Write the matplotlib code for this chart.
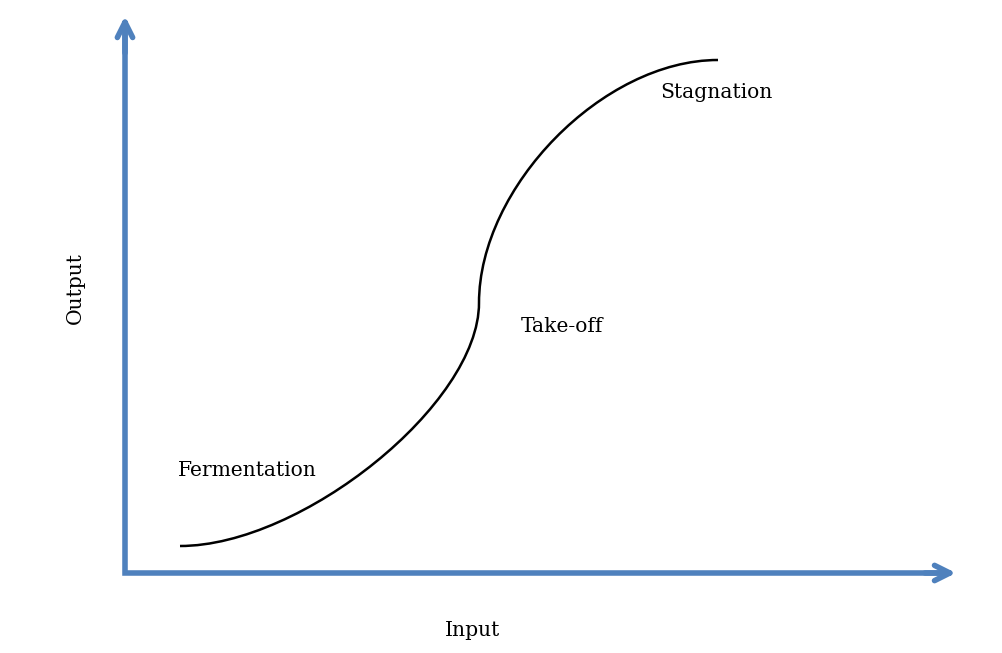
import matplotlib
matplotlib.use('Agg')
import matplotlib.pyplot as plt
from matplotlib.path import Path
from matplotlib.patches import PathPatch

# S-curve as two cubic Bezier segments (origin = axis corner, units ~ px)
CURVE_X = [55, 177, 354, 354, 354, 478, 593]
CURVE_Y = [27, 27, 169, 270, 386, 513, 513]

# text labels
LABELS = ['Fermentation', 'Take-off', 'Stagnation']
LABEL_X = [122, 437, 591]
LABEL_Y = [103, 247, 481]

AXIS_COLOR = '#4F81BD'
FONT = 'DejaVu Serif'

fig = plt.figure(figsize=(10.02, 6.53), dpi=100)
ax = fig.add_axes([0, 0, 1, 1])
ax.set_xlim(-125, 877)
ax.set_ylim(-80, 573)
ax.axis('off')

# axes as an L shape plus arrow heads
ax.plot([0, 0, 826], [552, 0, 0], color=AXIS_COLOR, lw=4,
        solid_joinstyle='miter', solid_capstyle='butt')
head = dict(arrowstyle='->,head_length=1.1,head_width=0.55',
            color=AXIS_COLOR, lw=4, shrinkA=0, shrinkB=0)
ax.annotate('', xy=(831, 0), xytext=(800, 0), arrowprops=head)
ax.annotate('', xy=(0, 557), xytext=(0, 520), arrowprops=head)

codes = [Path.MOVETO] + [Path.CURVE4] * 6
path = Path(list(zip(CURVE_X, CURVE_Y)), codes)
ax.add_patch(PathPatch(path, facecolor='none', edgecolor='black', lw=1.8))

for txt, x, y in zip(LABELS, LABEL_X, LABEL_Y):
    ax.text(x, y, txt, family=FONT, fontsize=14.6, ha='center', va='center')

ax.text(348, -58, 'Input', family=FONT, fontsize=14.6, ha='center', va='center')
ax.text(-50, 285, 'Output', family=FONT, fontsize=14.6, ha='center', va='center',
        rotation=90)

fig.savefig('out.png', dpi=100)
plt.close(fig)
